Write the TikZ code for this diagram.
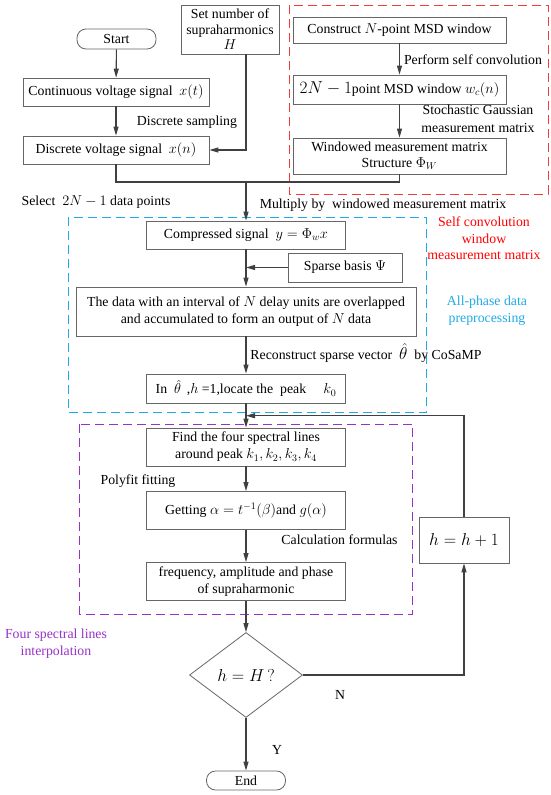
\documentclass[tikz,border=0pt]{standalone}
\usepackage{amsmath}
\usepackage{amssymb}
\usepackage{fontspec}
\setmainfont{Liberation Serif}
\usepackage{tikz}
\usetikzlibrary{shapes.geometric,arrows.meta}

\definecolor{redframe}{RGB}{240,60,60}
\definecolor{blueframe}{RGB}{30,170,230}
\definecolor{purpleframe}{RGB}{150,50,200}
\newcommand{\bigmath}{\fontsize{17}{20}\selectfont}

\begin{document}
\begin{tikzpicture}[x=1pt,y=-1pt,font=\fontsize{13.8}{17}\selectfont]
\tikzstyle{box}=[draw=black!60,line width=0.8pt,rectangle,inner sep=2pt,align=center]
\tikzstyle{term}=[box,rounded corners=9pt]
\tikzstyle{line}=[draw=black!75,line width=1.1pt]
\tikzstyle{arr}=[line,-{Triangle[length=9pt,width=5pt]}]
\tikzstyle{lbl}=[align=center,inner sep=0pt]
\tikzstyle{frame}=[dash pattern=on 9pt off 5pt,line width=0.9pt]
\useasboundingbox (0,0) rectangle (550,795);

% frames
\draw[frame,redframe] (289,5) rectangle (548,194);
\draw[frame,blueframe] (68,217) rectangle (426.5,412);
\draw[frame,purpleframe] (79.5,424) rectangle (412.5,614);

% left column
\node[term,minimum width=79pt,minimum height=20pt] (start) at (116.5,39) {Start};
\node[box,minimum width=98pt,minimum height=49pt,inner sep=1pt,font=\fontsize{13.8}{15.5}\selectfont] (seth) at (230,29.5) {Set number of\\supraharmonics\\$H$};
\node[box,minimum width=186pt,minimum height=28pt] (cont) at (116,92) {Continuous voltage signal \ $x(t)$};
\node[box,minimum width=186pt,minimum height=28pt] (disc) at (116,150) {Discrete voltage signal \ $x(n)$};

% red part
\node[box,minimum width=213pt,minimum height=26pt] (cons) at (399.5,30) {Construct $N$-point MSD window};
\node[box,minimum width=213pt,minimum height=29pt] (win) at (399.5,89.5) {{\bigmath $2N-1$}point MSD window $w_c(n)$};
\node[box,minimum width=213pt,minimum height=36pt,font=\fontsize{13.8}{16}\selectfont] (wmm) at (399.5,156) {Windowed measurement matrix\\Structure $\Phi_W$};

% main column
\node[box,minimum width=199pt,minimum height=28pt] (comp) at (246,235) {Compressed signal \ $y=\Phi_w x$};
\node[box,minimum width=114pt,minimum height=29pt] (sparse) at (345,267.5) {Sparse basis $\Psi$};
\node[box,minimum width=340pt,minimum height=49pt] (data) at (246,311.5) {The data with an interval of $N$ delay units are overlapped\\and accumulated to form an output of $N$ data};
\node[box,minimum width=199pt,minimum height=29pt] (peak) at (246,388.5) {In \ $\hat{\theta}$ \,,$h$ =1,locate the \ peak \quad $k_0$};
\node[box,minimum width=199pt,minimum height=38pt] (find) at (246,447) {Find the four spectral lines\\around peak $k_1,k_2,k_3,k_4$};
\node[box,minimum width=199pt,minimum height=38pt] (get) at (246,510.5) {Getting $\alpha=t^{-1}(\beta)$and $g(\alpha)$};
\node[box,minimum width=199pt,minimum height=38pt] (freq) at (246,581.5) {frequency, amplitude and phase\\of supraharmonic};
\node[draw=black!60,line width=0.8pt,diamond,inner sep=0pt,minimum width=113pt,minimum height=85pt,font=\bigmath] (dec) at (246,675) {$h=H\,?$};
\node[box,minimum width=90pt,minimum height=46pt,font=\fontsize{16.5}{19}\selectfont] (inc) at (464,540) {$h=h+1$};
\node[term,minimum width=79pt,minimum height=19pt] (end) at (246,780.5) {End};

\coordinate (jn) at (246,182);
\coordinate (fb) at (246,415.7);

% labels
\node[lbl] (samp) at (187,122) {Discrete sampling};
\node[lbl] (selfc) at (473,60) {Perform self convolution};
\node[lbl,font=\fontsize{13.8}{18}\selectfont] (gauss) at (478,119) {Stochastic Gaussian\\measurement matrix};
\node[lbl] (sel) at (96,202) {Select \ $2N-1$ data points};
\node[lbl] (mult) at (383,205) {Multiply by \ windowed measurement matrix};
\node[lbl,text=red,font=\fontsize{13.8}{16.5}\selectfont] (redlbl) at (484,238.5) {Self convolution\\window\\measurement matrix};
\node[lbl,text=blueframe] (bluelbl) at (487,310.5) {All-phase data\\preprocessing};
\node[lbl] (recon) at (366,353) {Reconstruct sparse vector \ {\bigmath $\hat{\theta}$} \ by CoSaMP};
\node[lbl] (poly) at (138,481) {Polyfit fitting};
\node[lbl] (calc) at (339.5,540) {Calculation formulas};
\node[lbl,text=purpleframe] (purplbl) at (56,643.5) {Four spectral lines\\interpolation};
\node[lbl] (nlbl) at (340,695) {N};
\node[lbl] (ylbl) at (277,750) {Y};

% connectors
\draw[arr] (start) -- (cont);
\draw[arr] (cont) -- (disc);
\draw[arr] (seth.south -| comp.north) |- (disc.east);
\draw[arr] (cons) -- (win);
\draw[arr] (win) -- (wmm);
\draw[line] (disc.south) |- (jn) -| (wmm.south);
\draw[arr] (jn) -- (comp.north);
\draw[arr] (comp) -- (data);
\draw[arr] (sparse.west) -- (sparse.west -| comp.south);
\draw[arr] (data) -- (peak);
\draw[arr] (peak) -- (find);
\draw[arr] (inc.north) |- (fb);
\draw[arr] (find) -- (get);
\draw[arr] (get) -- (freq);
\draw[arr] (freq) -- (dec);
\draw[arr] (dec) -- (end);
\draw[arr] (dec.east) -| (inc.south);
\end{tikzpicture}
\end{document}
